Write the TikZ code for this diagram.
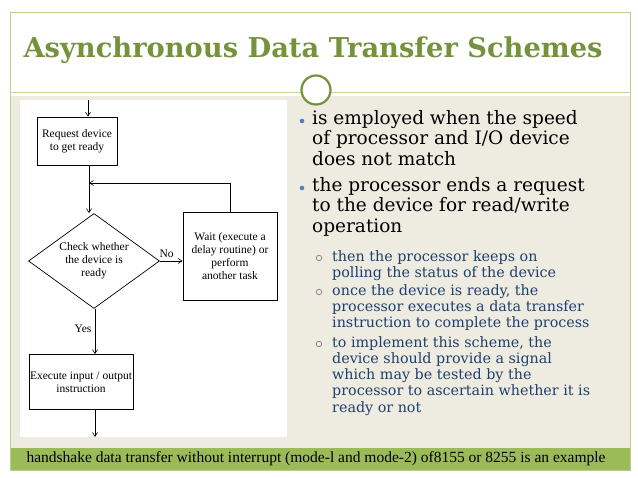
\documentclass[tikz,border=0pt]{standalone}
\usepackage{fontspec}
\setmainfont{Liberation Serif}
\newfontfamily\geo{DejaVu Serif}
\usetikzlibrary{shapes.geometric,arrows.meta}
\definecolor{tgreen}{HTML}{76923C}
\definecolor{bgreen}{HTML}{9BBB59}
\definecolor{panel}{HTML}{EEECE1}
\definecolor{sblue}{HTML}{1F3F6D}
\definecolor{dot}{HTML}{4F81BD}
\begin{document}
\begin{tikzpicture}[x=1pt,y=-1pt,
  fc/.style={draw,line width=0.7pt,font=\fontsize{11.5}{13}\selectfont,align=center,inner sep=1pt},
  arr/.style={-{Straight Barb[length=4pt,width=5pt]},line width=0.6pt},
  main/.style={anchor=north west,align=left,font=\geo\fontsize{18.5}{20.5}\selectfont,inner sep=0},
  sub/.style={anchor=north west,align=left,font=\geo\fontsize{14.3}{16.3}\selectfont,text=sblue,inner sep=0}]
\useasboundingbox (0,0) rectangle (638,478);
\fill[white] (0,0) rectangle (638,478);
\fill[panel] (10,96) rectangle (630,448);
\fill[bgreen] (10,448) rectangle (630,470);
\draw[bgreen!70,line width=0.7pt] (10,12) rectangle (630,470);
\draw[bgreen!60,line width=0.6pt] (10,92) -- (630,92);
\node[circle,draw=tgreen,fill=white,line width=2.2pt,minimum size=29pt,inner sep=0] (circ) at (316,90) {};
\node[anchor=west,text=tgreen,font=\geo\fontsize{27.3}{30}\selectfont\bfseries] (title) at (20,50) {Asynchronous Data Transfer Schemes};
\fill[white] (20,100) rectangle (287,437);
% flowchart
\node[fc,minimum width=80,minimum height=48] (req) at (77,141) {Request device\\to get ready};
\node[fc,diamond,aspect=1.4,minimum width=131,minimum height=95,inner sep=0] (chk) at (94,261) {Check whether\\the device is\\ready};
\node[fc,minimum width=94,minimum height=88] (wait) at (230,256) {Wait (execute a\\delay routine) or\\perform\\another task};
\node[fc,minimum width=93,minimum height=55] (exe) at (81,382) {Execute input / output\\instruction};
\coordinate (top) at (88,100);
\coordinate (j) at (89,183);
\coordinate (bot) at (95,437);
\draw[arr] (top) -- (top|-req.north);
\draw[arr] (req.south-|j) -- (j|-chk.north);
\draw[arr] (wait.north) |- (j);
\draw[arr] (chk.east) -- (wait.west|-chk.east) node[pos=0.3,above,font=\fontsize{11.5}{13}\selectfont] {No};
\draw[arr] (chk.south-|bot) -- (bot|-exe.north) node[pos=0.45,left,font=\fontsize{11.5}{13}\selectfont] {Yes};
\draw[arr] (exe.south-|bot) -- (bot);
% text
\foreach \yy in {121,188} \fill[dot] (302,\yy) circle (2.3);
\node[main] (b1) at (312,110) {is employed when the speed\\of processor and I/O device\\does not match};
\node[main] (b2) at (312,177) {the processor ends a request\\to the device for read/write\\operation};
\foreach \yy in {258,292,344} \draw[dot!60!red!40!gray,line width=0.6pt] (319,\yy) circle (2.8);
\node[sub] (s1) at (332,250) {then the processor keeps on\\polling the status of the device};
\node[sub] (s2) at (332,284) {once the device is ready, the\\processor executes a data transfer\\instruction to complete the process};
\node[sub] (s3) at (332,336) {to implement this scheme, the\\device should provide a signal\\which may be tested by the\\processor to ascertain whether it is\\ready or not};
\node[font=\fontsize{15.5}{17}\selectfont] (foot) at (316,459) {handshake data transfer without interrupt (mode-l and mode-2) of8155 or 8255 is an example};
\end{tikzpicture}
\end{document}
